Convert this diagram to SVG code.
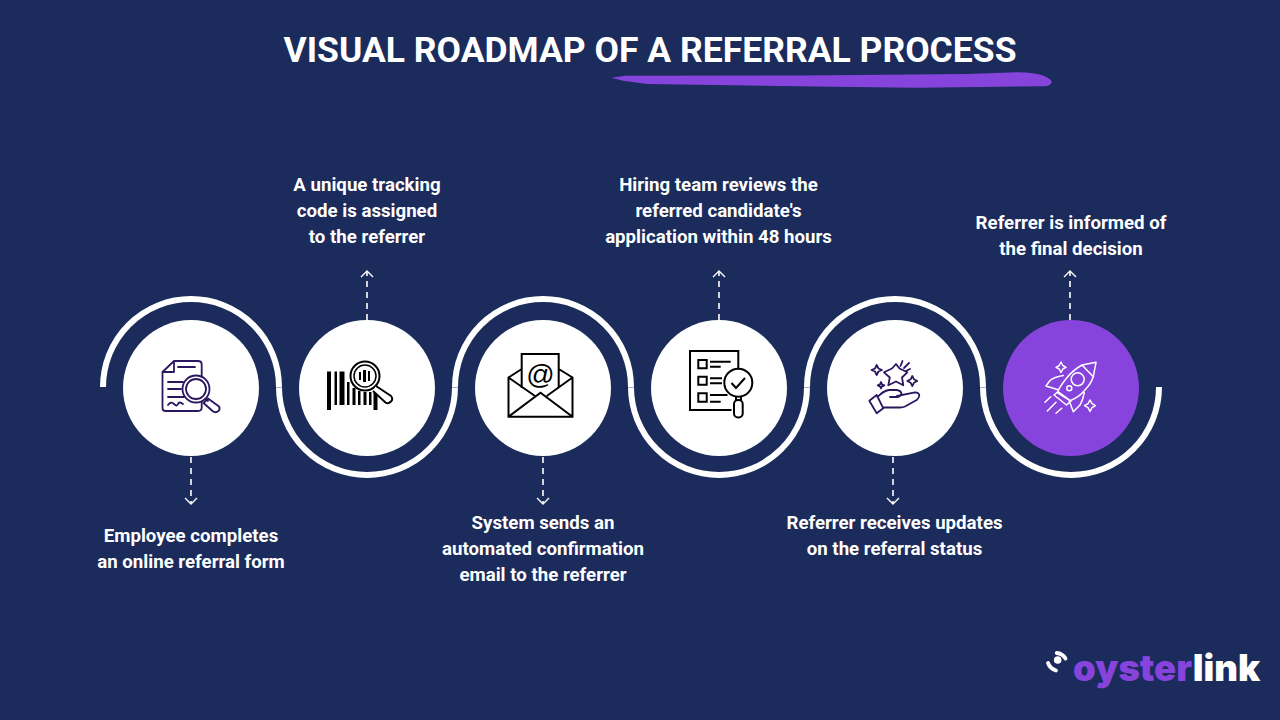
<svg xmlns="http://www.w3.org/2000/svg" width="1280" height="720" viewBox="0 0 1280 720">
<style>
.t{font-family:Roboto,"Liberation Sans",sans-serif;font-weight:700;fill:#fff;text-anchor:middle}
.b{font-size:18.67px}
.w{fill:none;stroke:#fff;stroke-width:6}
.seam{stroke:#a9b1c6;stroke-width:1;fill:none}
.d{fill:none;stroke:#fff;stroke-width:1.6;stroke-dasharray:6 5}
.c{fill:none;stroke:#fff;stroke-width:1.4}
.i1{fill:none;stroke:#2a1760;stroke-width:1.8;stroke-linejoin:round;stroke-linecap:round}
.i2{fill:none;stroke:#000;stroke-width:2;stroke-linejoin:miter}
.i3{fill:none;stroke:#fff;stroke-width:1.5;stroke-linejoin:round;stroke-linecap:round}
</style>
<rect width="1280" height="720" fill="#1b2b5b"/>
<g id="title">
<path d="M611.500 77.700L625 75.700L800 75.500L967 74L1017 72.300Q1035 72.500 1043 75.500Q1052 79 1051.700 82.500Q1050 86 1044 86.200L1000 86.700L917 87.700L833 86.700L647 84L623 80.700Z" fill="#8744dc"/>
<text class="t" x="650" y="61.500" font-size="35.500">VISUAL ROADMAP OF A REFERRAL PROCESS</text>
</g>
<g id="connectors">
<path class="w" d="M103 387A88 88 0 0 1 279 387A88 88 0 0 0 455 387A88 88 0 0 1 631 387A88 88 0 0 0 807 387A88 88 0 0 1 983 387A88 88 0 0 0 1159 387"/>
<path class="seam" d="M276 387.500h6M452 387.500h6M628 387.500h6M804 387.500h6M980 387.500h6"/>
<path class="d" d="M191 457V503M543 457V503M893 457V503"/>
<path class="d" d="M367 320V272M719 320V272M1070 320V272"/>
<path class="c" d="M185 498L191 504L197 498M537 498L543 504L549 498M887 498L893 504L899 498M361 277L367 271L373 277M713 277L719 271L725 277M1064 277L1070 271L1076 277"/>
</g>
<g id="node1">
<circle cx="191" cy="388" r="68" fill="#fff"/>
<path class="i1" d="M174 361H198Q201.700 361 201.700 364.500V376M201.700 402V407.500Q201.700 411 198 411H165.500Q162.500 411 162.500 408V372L174 361V372H162.500M178 367H195M168 382H183M168 389H181M168 397H184M168 405Q171 401 174 404T178 404T183 404"/>
<circle class="i1" cx="196" cy="389" r="13.500"/><circle class="i1" cx="196" cy="389" r="10"/>
<path class="i1" d="M205 399L208 401M208 398.500L219 406.500Q220.500 409 218.500 411Q215.500 413.500 212.500 411L203.500 403Z"/>
<text class="t b" x="191" y="542">Employee completes</text>
<text class="t b" x="191" y="568">an online referral form</text>
</g>
<g id="node2">
<circle cx="367" cy="388" r="68" fill="#fff"/>
<path d="M327 371.500h4V410h-4zM334.500 371.500h2.500V405h-2.500zM339.500 371.500h5V405h-5zM347 382h2.500V405h-2.500zM352.500 388h3V405h-3zM358 391h2.500V405h-2.500zM363.500 392h3V405h-3zM369 392h2.500V405h-2.500zM373.500 392h4V410h-4z" fill="#000"/>
<circle cx="365" cy="376" r="14.500" fill="#fff" stroke="#000" stroke-width="2"/>
<circle cx="365" cy="376" r="11" fill="none" stroke="#000" stroke-width="1.500"/>
<path d="M359 372h2V380h-2zM363 370h3V382h-3zM368 371h2V381h-2z" fill="#000"/>
<path d="M376 386L391 396Q393.500 399 391 401.500Q388 404.500 385.500 402.500L373 391" fill="#fff" stroke="#000" stroke-width="1.900"/>
<text class="t b" x="367" y="191">A unique tracking</text>
<text class="t b" x="367" y="217">code is assigned</text>
<text class="t b" x="367" y="243">to the referrer</text>
</g>
<g id="node3">
<circle cx="543" cy="388" r="68" fill="#fff"/>
<path class="i2" d="M521.700 388V354H558.700V388M521.700 369L508.500 377.500V416.700H572.500V377.500L558.700 369M508.500 377.500L535 396M572.500 377.500L546.700 396M508.500 416.700L540.500 392.700L572.500 416.700"/>
<text x="540.500" y="384" font-family="Liberation Sans,sans-serif" font-size="28" fill="#000" text-anchor="middle">@</text>
<text class="t b" x="543" y="529">System sends an</text>
<text class="t b" x="543" y="555">automated confirmation</text>
<text class="t b" x="543" y="581">email to the referrer</text>
</g>
<g id="node4">
<circle cx="719" cy="388" r="68" fill="#fff"/>
<path class="i2" d="M738.300 368V351H690V410H731.500M698.300 360h8.400v8.300h-8.400zM698.300 376.700h8.400v8h-8.400zM698.300 393.300h8.400v8.400h-8.400zM710 361.700H730.700M710 366.700H720.700M710 378.300H722M710 383.300H722M710 395H727.500M710 401.700H720.700"/>
<circle class="i2" cx="738.300" cy="382.700" r="14"/>
<path class="i2" d="M731.500 383L736 388L745 378M736 397V400M741 397V400"/>
<rect class="i2" x="734" y="400" width="8.700" height="17.500" rx="4"/>
<text class="t b" x="718.500" y="191">Hiring team reviews the</text>
<text class="t b" x="718.500" y="217">referred candidate's</text>
<text class="t b" x="718.500" y="243">application within 48 hours</text>
</g>
<g id="node5">
<circle cx="895" cy="388" r="68" fill="#fff"/>
<path class="i1" d="M896 364L899.500 368.500L907.300 372.300L902 377.500L903.300 385.300L896 381.500L888.300 385.300L889.800 377.500L884 372.300L892 368.500ZM876.700 365L878.500 368.500L882 370L878.500 371.500L876.700 375L875 371.500L871.500 370L875 368.500ZM912.300 376L914 379.300L917.300 381L914 382.700L912.300 386L910.600 382.700L907.300 381L910.600 379.300ZM881 382L882 384.300L884.300 385.300L882 386.300L881 388.500L880 386.300L877.700 385.300L880 384.300ZM900.500 366L902.500 361M904 368L909 363M906 371L910 369M869.300 400.700L876.700 395L883.300 408.300L876.700 413.300ZM877.500 397Q883 391 889 390H897Q901.500 391 901.500 394Q900 397 897 397H890M897 396L915 392.300Q919.300 392.500 919.300 395.500Q919 398 916.700 400L905 406.500Q903 407.500 900 407.500H883.300"/>
<text class="t b" x="894.500" y="529">Referrer receives updates</text>
<text class="t b" x="894.500" y="555">on the referral status</text>
</g>
<g id="node6">
<circle cx="1071" cy="388" r="68" fill="#8744dc"/>
<path class="i3" d="M1096 362.300L1082 365Q1073 370 1066.700 378Q1060 386 1057.300 392.700L1070 400.700Q1079 397 1083.300 391.700Q1091 384 1093.300 376.700ZM1082 365L1093.300 376.700M1054 395L1058 391.500L1071 401L1066.500 405ZM1063.300 375.500Q1054 377 1050 380.500L1046 386L1057.300 389.500M1084.300 392.700Q1083 400 1080 405L1073.300 411.700L1069.300 401M1045 402.300L1050.700 396.700M1047.300 411L1056 402.300M1056 413.300L1061.700 408.300M1061 362L1062.800 365.500L1066 367.300L1062.800 369L1061 372.500L1059.200 369L1056 367.300L1059.200 365.500ZM1090 400L1092 403.700L1095.500 405.700L1092 407.700L1090 411.500L1088 407.700L1084.500 405.700L1088 403.700Z"/>
<circle class="i3" cx="1077.700" cy="379.300" r="6.500"/><circle class="i3" cx="1069.300" cy="388.300" r="2.500"/>
<text class="t b" x="1071" y="229">Referrer is informed of</text>
<text class="t b" x="1071" y="255">the final decision</text>
</g>
<g id="logo">
<circle cx="1057.700" cy="660" r="3.800" fill="#fff"/>
<path d="M1056.700 653Q1062.500 653.500 1065.500 658.500M1048 663Q1050 668.500 1056 670.500" fill="none" stroke="#fff" stroke-width="3.800" stroke-linecap="round"/>
<text x="1073" y="680.500" font-family="Inter,Lato,sans-serif" font-weight="900" font-size="36.500"><tspan fill="#8744dc">oyster</tspan><tspan fill="#fff">link</tspan></text>
</g>
</svg>
